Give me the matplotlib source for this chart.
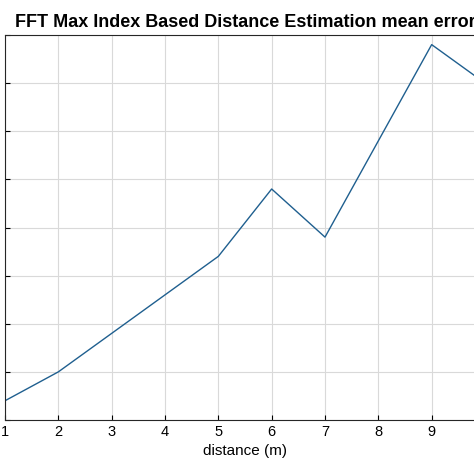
import matplotlib.pyplot as plt

plt.rcParams['font.family'] = ['Liberation Sans', 'DejaVu Sans']

distance = [1, 2, 3, 4, 5, 6, 7, 8, 9, 10]
mean_err = [0.4, 1.0, 1.8, 2.6, 3.4, 4.8, 3.8, 5.8, 7.8, 7.0]

fig = plt.figure(figsize=(4.74, 4.74), dpi=100)
# axes run past the right edge, as in the cropped reference
ax = fig.add_axes([5 / 474, 54 / 474, 480 / 474, 385 / 474])
ax.plot(distance, mean_err, color="#1f5f8f", linewidth=1)
ax.set_xlim(1, 10)
ax.set_ylim(0, 8)
ax.set_xticks(range(1, 10))
ax.set_yticks(range(0, 9))
ax.set_yticklabels([])
ax.grid(True, color="#d9d9d9", linewidth=0.8)
ax.tick_params(direction="in", labelsize=10.5)
ax.set_xlabel("distance (m)", fontsize=11)
ax.set_title("FFT Max Index Based Distance Estimation mean error",
             fontsize=13, fontweight="bold", pad=6)
for s in ax.spines.values():
    s.set_color("#262626")

fig.savefig("out.png", dpi=100)
